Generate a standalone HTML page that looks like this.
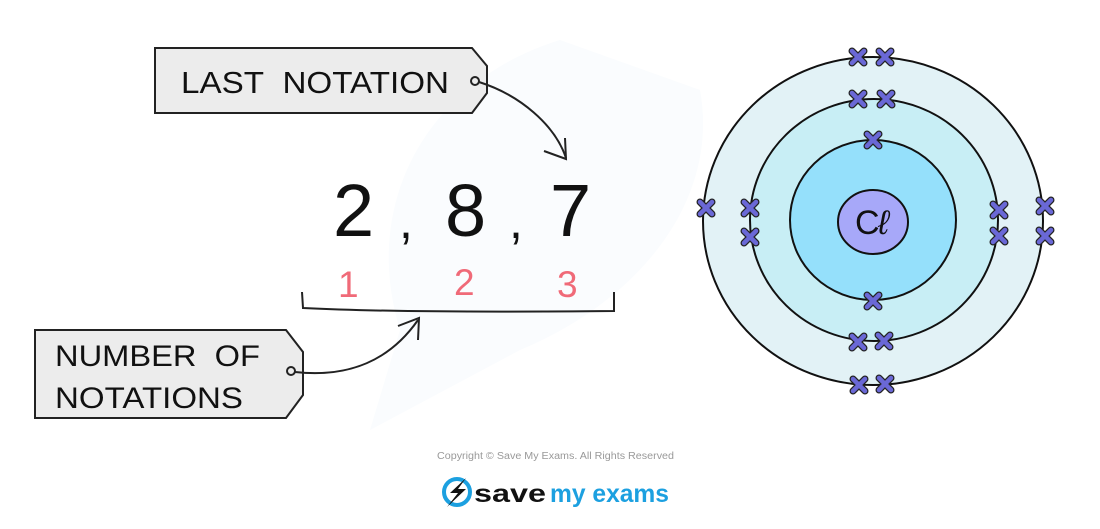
<!DOCTYPE html>
<html><head><meta charset="utf-8"><style>
html,body{margin:0;padding:0;background:#fff}
svg{display:block}
text{font-family:"Liberation Sans",sans-serif}
</style></head><body>
<svg width="1100" height="529" viewBox="0 0 1100 529">
<defs>
<g id="x"><path d="M-6,-6 L6,6 M6,-6 L-6,6" stroke="#222" stroke-width="7" stroke-linecap="round"/><path d="M-6,-6 L6,6 M6,-6 L-6,6" stroke="#6a68d6" stroke-width="4.5" stroke-linecap="round"/></g>
</defs>
<!-- watermark -->
<path d="M560,40 C430,80 360,200 400,330 L370,430 L520,350 C640,300 720,200 700,90 Z" fill="#fafcfe"/>
<!-- tag 1 -->
<polygon points="155,48 472,48 487,66 487,93 472,113 155,113" fill="#ececec" stroke="#222" stroke-width="2"/>
<text x="181" y="93" font-size="31" fill="#111" textLength="268" lengthAdjust="spacingAndGlyphs">LAST&#160;&#160;NOTATION</text>
<circle cx="475" cy="81" r="4" fill="none" stroke="#222" stroke-width="2"/>
<path d="M479,82 C520,95 555,125 566,158" fill="none" stroke="#222" stroke-width="2"/>
<path d="M544,151 L566,159 L565,138" fill="none" stroke="#222" stroke-width="2"/>
<!-- numbers -->
<text x="333" y="236" font-size="74" fill="#111">2</text>
<text x="399" y="238" font-size="50" fill="#111">,</text>
<text x="445" y="236" font-size="74" fill="#111">8</text>
<text x="509" y="238" font-size="50" fill="#111">,</text>
<text x="550" y="236" font-size="74" fill="#111">7</text>
<text x="338" y="297" font-size="37" fill="#f06a78">1</text>
<text x="454" y="295" font-size="37" fill="#f06a78">2</text>
<text x="557" y="297" font-size="37" fill="#f06a78">3</text>
<path d="M302,292 L303,308 Q400,313 614,311 L614,292" fill="none" stroke="#222" stroke-width="2"/>
<!-- tag 2 -->
<polygon points="35,330 286,330 303,352 303,395 286,418 35,418" fill="#ececec" stroke="#222" stroke-width="2"/>
<text x="55" y="366" font-size="30" fill="#111" textLength="205" lengthAdjust="spacingAndGlyphs">NUMBER&#160;&#160;OF</text>
<text x="55" y="408" font-size="30" fill="#111" textLength="188" lengthAdjust="spacingAndGlyphs">NOTATIONS</text>
<circle cx="291" cy="371" r="4" fill="none" stroke="#222" stroke-width="2"/>
<path d="M295,372 C350,378 390,360 418,320" fill="none" stroke="#222" stroke-width="2"/>
<path d="M398,326 L419,318 L418,340" fill="none" stroke="#222" stroke-width="2"/>
<!-- atom -->
<ellipse cx="873" cy="221" rx="170" ry="164" fill="#e2f2f6" stroke="#111" stroke-width="2"/>
<ellipse cx="874" cy="220" rx="124" ry="121" fill="#c8eef5" stroke="#111" stroke-width="2"/>
<ellipse cx="873" cy="220" rx="83" ry="80" fill="#95e0fb" stroke="#111" stroke-width="2"/>
<ellipse cx="873" cy="222" rx="35" ry="32" fill="#a7a8f9" stroke="#111" stroke-width="2"/>
<text x="855" y="234" font-size="34" fill="#111">C</text><text x="878" y="234" font-size="34" font-style="italic" fill="#111">ℓ</text>
<use href="#x" x="858" y="57"/><use href="#x" x="885" y="57"/>
<use href="#x" x="858" y="99"/><use href="#x" x="886" y="99"/>
<use href="#x" x="873" y="140"/><use href="#x" x="873" y="301"/>
<use href="#x" x="858" y="342"/><use href="#x" x="884" y="341"/>
<use href="#x" x="859" y="385"/><use href="#x" x="885" y="384"/>
<use href="#x" x="706" y="208"/>
<use href="#x" x="750" y="208"/><use href="#x" x="750" y="237"/>
<use href="#x" x="999" y="210"/><use href="#x" x="999" y="236"/>
<use href="#x" x="1045" y="206"/><use href="#x" x="1045" y="236"/>
<!-- footer -->
<text x="437" y="459" font-size="10" fill="#999" textLength="237" lengthAdjust="spacingAndGlyphs">Copyright © Save My Exams. All Rights Reserved</text>
<circle cx="457" cy="492" r="13" fill="none" stroke="#1ca0e0" stroke-width="4"/>
<path d="M466,478 L450,493 L458,493 L447,507 L466,489 L458,489 Z" fill="#111"/>
<text x="474" y="502" font-size="25" font-weight="bold" fill="#111" textLength="72" lengthAdjust="spacingAndGlyphs">save</text>
<text x="550" y="502" font-size="25" font-weight="bold" fill="#1ca0e0" textLength="119" lengthAdjust="spacingAndGlyphs">my exams</text>
</svg>
</body></html>
